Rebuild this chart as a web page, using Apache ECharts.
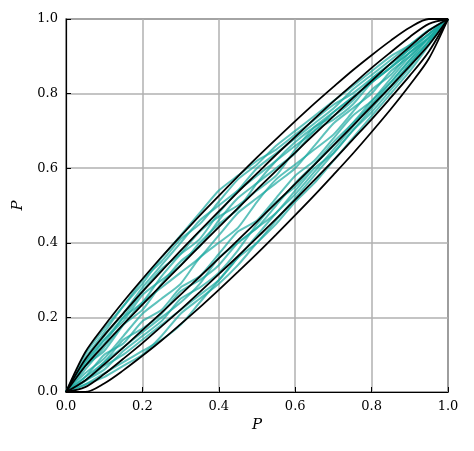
<!DOCTYPE html>
<html><head><meta charset="utf-8">
<script src="https://cdn.jsdelivr.net/npm/echarts@6/dist/echarts.min.js"></script>
<style>html,body{margin:0;padding:0;background:#fff}#c{width:474px;height:451px}</style>
</head><body><div id="c"></div>
<script>
const xs = [0,.05,.1,.15,.2,.25,.3,.35,.4,.45,.5,.55,.6,.65,.7,.75,.8,.85,.9,.95,1];
const ticks = ['0.0','0.2','0.4','0.6','0.8','1.0'];
const upper3 = [0,.106,.177,.242,.303,.362,.418,.473,.526,.578,.629,.678,.726,.773,.818,.862,.903,.942,.977,1,1];
const lower3 = [0,0,.023,.058,.097,.138,.182,.227,.274,.322,.371,.422,.474,.527,.582,.638,.697,.758,.823,.894,1];
const upper2 = [0,.087,.152,.211,.269,.324,.379,.432,.484,.536,.586,.636,.684,.732,.779,.824,.869,.911,.952,.987,1];
const lower2 = [0,.013,.048,.089,.131,.176,.221,.268,.316,.364,.414,.464,.516,.568,.621,.676,.731,.789,.848,.913,1];
const upper1 = [0,.069,.126,.181,.234,.287,.339,.391,.442,.493,.543,.593,.642,.691,.739,.787,.834,.881,.926,.969,1];
const lower1 = [0,.031,.074,.119,.166,.213,.261,.309,.358,.407,.457,.507,.558,.609,.661,.713,.766,.819,.874,.931,1];
// teal lines: offset from the diagonal
const off1 = [0,.03,.05,.06,.08,.09,.10,.11,.10,.09,.08,.07,.06,.05,.05,.04,.03,.02,.01,.01,0];
const off2 = [0,-.02,-.03,-.05,-.06,-.07,-.08,-.09,-.10,-.09,-.08,-.07,-.07,-.06,-.05,-.04,-.03,-.03,-.02,-.01,0];
const off3 = [0,.01,.02,.03,.02,.04,.05,.04,.06,.07,.06,.05,.04,.05,.03,.02,.03,.02,.01,0,0];
const off4 = [0,-.01,0,-.02,-.01,-.03,-.02,-.04,-.03,-.02,-.04,-.03,-.02,-.03,-.02,-.01,-.02,-.01,0,0,0];
const off5 = [0,.04,.06,.08,.09,.11,.12,.13,.14,.13,.12,.10,.09,.08,.07,.05,.04,.03,.02,.01,0];
const off6 = [0,-.03,-.05,-.07,-.09,-.11,-.12,-.11,-.10,-.09,-.10,-.09,-.08,-.07,-.06,-.05,-.05,-.04,-.03,-.01,0];
const off7 = [0,.02,.03,.05,.04,.06,.07,.08,.07,.05,.04,.03,.05,.06,.05,.04,.03,.02,.02,.01,0];
const off8 = [0,-.01,-.02,-.01,-.03,-.04,-.03,-.05,-.06,-.05,-.06,-.07,-.06,-.05,-.06,-.05,-.04,-.03,-.02,-.01,0];
const off9 = [0,.02,.01,.03,.04,.03,.02,.01,.02,.03,.02,.01,0,.01,.02,.01,0,.01,0,0,0];
const off10 = [0,0,-.01,0,.01,0,-.01,.01,0,-.01,.01,.02,.01,0,-.01,0,.01,0,.01,0,0];
const off11 = [0,.03,.04,.05,.07,.08,.07,.06,.08,.09,.10,.09,.08,.07,.06,.06,.05,.04,.03,.02,0];
const off12 = [0,-.02,-.04,-.04,-.05,-.06,-.05,-.07,-.08,-.07,-.05,-.04,-.05,-.04,-.03,-.03,-.02,-.02,-.01,0,0];
const off13 = [0,.05,.07,.08,.10,.10,.11,.10,.11,.12,.11,.11,.10,.09,.08,.07,.06,.05,.03,.02,0];
const off14 = [0,-.03,-.06,-.08,-.10,-.10,-.09,-.10,-.11,-.11,-.10,-.10,-.09,-.09,-.08,-.07,-.06,-.05,-.04,-.02,0];
const off15 = [0,.02,.04,.04,.06,.05,.04,.05,.05,.04,.06,.07,.07,.06,.04,.03,.04,.03,.02,.01,0];
const off16 = [0,-.02,-.02,-.03,-.04,-.05,-.06,-.06,-.04,-.05,-.06,-.05,-.04,-.04,-.04,-.03,-.03,-.02,-.01,-.01,0];
const offsets = [off1,off2,off3,off4,off5,off6,off7,off8,off9,off10,off11,off12,off13,off14,off15,off16];
const bands = [upper3,lower3,upper2,lower2,upper1,lower1];

const series = [];
offsets.forEach(o => series.push({type:'line', showSymbol:false, smooth:0.2,
  data: xs.map((x,i)=>[x, Math.min(1,Math.max(0,x+o[i]))]),
  lineStyle:{color:'#1aa89f', width:2, opacity:0.7}, silent:true, z:2}));
bands.forEach(b => series.push({type:'line', showSymbol:false, smooth:0.3,
  data: xs.map((x,i)=>[x,b[i]]), lineStyle:{color:'#000', width:1.8}, silent:true, z:3}));

const font = '"DejaVu Serif","Liberation Serif",serif';
const ax = (name) => ({type:'value', min:0, max:1, interval:0.2, name,
  nameLocation:'middle', nameGap:22,
  nameTextStyle:{fontFamily:font, fontStyle:'italic', fontSize:15, color:'#000'},
  axisLine:{show:true, onZero:false, lineStyle:{color:'#000', width:1.2}},
  axisTick:{inside:true, length:5, lineStyle:{color:'#000'}},
  axisLabel:{fontFamily:font, fontSize:13, color:'#000', formatter:v=>v.toFixed(1)},
  splitLine:{show:true, lineStyle:{color:'#b0b0b0', width:1.5}}});
const chart = echarts.init(document.getElementById('c'));
chart.setOption({animation:false,
  grid:{left:66, right:26, top:19, bottom:59, show:true, borderColor:'#000', borderWidth:1.2},
  xAxis: ax('P'), yAxis: Object.assign(ax('P'), {nameGap:40}),
  series});
</script></body></html>
